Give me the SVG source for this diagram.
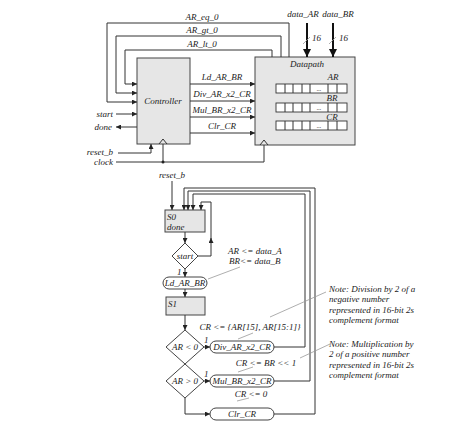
<svg xmlns="http://www.w3.org/2000/svg" width="474" height="428" viewBox="0 0 474 428">
<defs>
<style>
.t{font-family:"Liberation Serif",serif;font-style:italic;font-size:9px;fill:#222}
.m{text-anchor:middle}
.e{text-anchor:end}
.ln{stroke:#333;stroke-width:1;fill:none}
.box{fill:#e6e6e6;stroke:#444;stroke-width:1}
.wb{fill:#fff;stroke:#444;stroke-width:1}
.reg{fill:#fff;stroke:#333;stroke-width:0.9}
.ld{stroke:#999;stroke-width:0.8;fill:none}
</style>
<marker id="a" markerWidth="5" markerHeight="5" refX="5" refY="2.5" orient="auto" markerUnits="userSpaceOnUse"><path d="M0,0 L5,2.5 L0,5 z" fill="#222"/></marker>
<marker id="ab" markerWidth="8" markerHeight="8" refX="8" refY="4" orient="auto" markerUnits="userSpaceOnUse"><path d="M0,0 L8,4 L0,8 z" fill="#111"/></marker>
</defs>
<rect width="474" height="428" fill="#fff"/>

<g id="controller">
<rect class="box" x="137" y="58" width="53" height="86"/>
<text class="t m" x="163" y="104">Controller</text>
<path class="ln" d="M159,144 L163,139 L167,144"/>
</g>

<g id="datapath">
<rect class="box" x="255" y="57" width="100" height="88"/>
<text class="t m" x="307" y="67">Datapath</text>
<path class="ln" d="M260,145 L264,140 L268,145"/>
<text class="t m" x="333" y="80">AR</text>
<rect class="reg" x="276" y="84" width="71" height="9"/>
<path class="ln" d="M285,84v9M293,84v9M302,84v9M310,84v9M328,84v9M337,84v9"/>
<text class="t m" x="319" y="91" style="font-size:6px">...</text>
<text class="t m" x="332" y="101">BR</text>
<rect class="reg" x="276" y="103" width="71" height="9"/>
<path class="ln" d="M285,103v9M293,103v9M302,103v9M310,103v9M328,103v9M337,103v9"/>
<text class="t m" x="319" y="110" style="font-size:6px">...</text>
<text class="t m" x="332" y="120">CR</text>
<rect class="reg" x="276" y="121" width="71" height="9"/>
<path class="ln" d="M285,121v9M293,121v9M302,121v9M310,121v9M328,121v9M337,121v9"/>
<text class="t m" x="319" y="128" style="font-size:6px">...</text>
</g>

<g id="s0">
<rect class="box" x="165" y="210" width="40" height="22"/>
<text class="t" x="167" y="220">S0</text>
<text class="t" x="167" y="230">done</text>
</g>
<g id="start">
<polygon class="wb" points="185,243 198,256 185,269 172,256"/>
<text class="t m" x="185" y="259">start</text>
</g>
<g id="ld">
<rect class="wb" x="163" y="277" width="44" height="12" rx="6"/>
<text class="t m" x="185" y="286">Ld_AR_BR</text>
</g>
<g id="s1">
<rect class="box" x="166" y="297" width="39" height="18"/>
<text class="t" x="168" y="307">S1</text>
</g>
<g id="arlt">
<polygon class="wb" points="185,330 204,347 185,364 166,347"/>
<text class="t m" x="185" y="350">AR &lt; 0</text>
</g>
<g id="argt">
<polygon class="wb" points="185,364 204,381 185,398 166,381"/>
<text class="t m" x="185" y="384">AR &gt; 0</text>
</g>
<g id="div">
<rect class="wb" x="210" y="341" width="64" height="12" rx="6"/>
<text class="t m" x="242" y="350">Div_AR_x2_CR</text>
</g>
<g id="mul">
<rect class="wb" x="210" y="375" width="64" height="12" rx="6"/>
<text class="t m" x="242" y="384">Mul_BR_x2_CR</text>
</g>
<g id="clr">
<rect class="wb" x="210" y="408" width="64" height="12" rx="6"/>
<text class="t m" x="242" y="417">Clr_CR</text>
</g>

<g id="connectors">
<!-- feedback status lines -->
<path class="ln" d="M289,57 V23 H107 V102 H137" marker-end="url(#a)"/>
<path class="ln" d="M281,57 V36 H116 V93 H137" marker-end="url(#a)"/>
<path class="ln" d="M272,57 V50 H125 V84 H137" marker-end="url(#a)"/>
<!-- control signals -->
<path class="ln" d="M190,84 H255" marker-end="url(#a)"/>
<path class="ln" d="M190,101 H255" marker-end="url(#a)"/>
<path class="ln" d="M190,117 H255" marker-end="url(#a)"/>
<path class="ln" d="M190,133 H255" marker-end="url(#a)"/>
<!-- start / done -->
<path class="ln" d="M116,114 H137" marker-end="url(#a)"/>
<path class="ln" d="M137,127 H116" marker-end="url(#a)"/>
<!-- reset / clock -->
<path class="ln" d="M118,153 H151 V144" marker-end="url(#a)"/>
<path class="ln" d="M116,162 H264 V145"/>
<path class="ln" d="M163,162 V144"/>
<circle cx="163" cy="162" r="1.5" fill="#222"/>
<!-- data inputs -->
<path d="M307,23 V57" stroke="#111" stroke-width="2" fill="none" marker-end="url(#ab)"/>
<path d="M333,23 V57" stroke="#111" stroke-width="2" fill="none" marker-end="url(#ab)"/>
<path class="ld" d="M303,44 L310,37 M329,44 L336,37"/>

<!-- ASM -->
<path class="ln" d="M172,181 V210" marker-end="url(#a)"/>
<path class="ln" d="M185,232 V243" marker-end="url(#a)"/>
<path class="ln" d="M198,256 H211 V238" marker-end="url(#a)"/>
<path class="ln" d="M211,240 V202 H201 V210" marker-end="url(#a)"/>
<path class="ln" d="M185,269 V277" marker-end="url(#a)"/>
<path class="ln" d="M185,289 V297" marker-end="url(#a)"/>
<path class="ln" d="M185,315 V330" marker-end="url(#a)"/>
<path class="ln" d="M204,347 H210" marker-end="url(#a)"/>
<path class="ln" d="M204,381 H210" marker-end="url(#a)"/>
<path class="ln" d="M185,398 V414 H210" marker-end="url(#a)"/>
<path class="ln" d="M274,347 H305 V194 H193 V210" marker-end="url(#a)"/>
<path class="ln" d="M274,381 H310 V191 H188 V210" marker-end="url(#a)"/>
<path class="ln" d="M274,414 H315 V188 H184 V210" marker-end="url(#a)"/>
<!-- leaders -->
<path class="ld" d="M240,267 L208,279"/>
<path class="ld" d="M326,292 L270,317"/>
<path class="ld" d="M330,344 L300,358"/>
<path class="ld" d="M253,333 L238,339"/>
<path class="ld" d="M253,367 L238,372"/>
<path class="ld" d="M249,398 L237,401"/>
</g>

<g id="labels">
<text class="t m" x="202" y="20">AR_eq_0</text>
<text class="t m" x="202" y="33">AR_gt_0</text>
<text class="t m" x="202" y="47">AR_lt_0</text>
<text class="t m" x="222" y="80">Ld_AR_BR</text>
<text class="t m" x="222" y="97">Div_AR_x2_CR</text>
<text class="t m" x="222" y="113">Mul_BR_x2_CR</text>
<text class="t m" x="222" y="129">Clr_CR</text>
<text class="t e" x="113" y="117">start</text>
<text class="t e" x="112" y="130">done</text>
<text class="t e" x="113" y="155">reset_b</text>
<text class="t e" x="113" y="165">clock</text>
<text class="t m" x="303" y="17">data_AR</text>
<text class="t m" x="338" y="17">data_BR</text>
<text class="t" x="312" y="41">16</text>
<text class="t" x="339" y="41">16</text>
<text class="t m" x="172" y="178">reset_b</text>
<text class="t" x="228" y="254">AR &lt;= data_A</text>
<text class="t" x="229" y="264">BR&lt;= data_B</text>
<text class="t" x="177" y="275">1</text>
<text class="t" x="204" y="343">1</text>
<text class="t" x="204" y="377">1</text>
<text class="t m" x="250" y="330">CR &lt;= {AR[15], AR[15:1]}</text>
<text class="t m" x="266" y="366">CR &lt;= BR &lt;&lt; 1</text>
<text class="t m" x="251" y="397">CR &lt;= 0</text>
<text class="t" x="329" y="292">Note: Division by 2 of a</text>
<text class="t" x="329" y="302">negative number</text>
<text class="t" x="329" y="313">represented in 16-bit 2s</text>
<text class="t" x="329" y="323">complement format</text>
<text class="t" x="329" y="347">Note: Multiplication by</text>
<text class="t" x="329" y="357">2 of a positive number</text>
<text class="t" x="329" y="368">represented in 16-bit 2s</text>
<text class="t" x="329" y="378">complement format</text>
</g>
</svg>
